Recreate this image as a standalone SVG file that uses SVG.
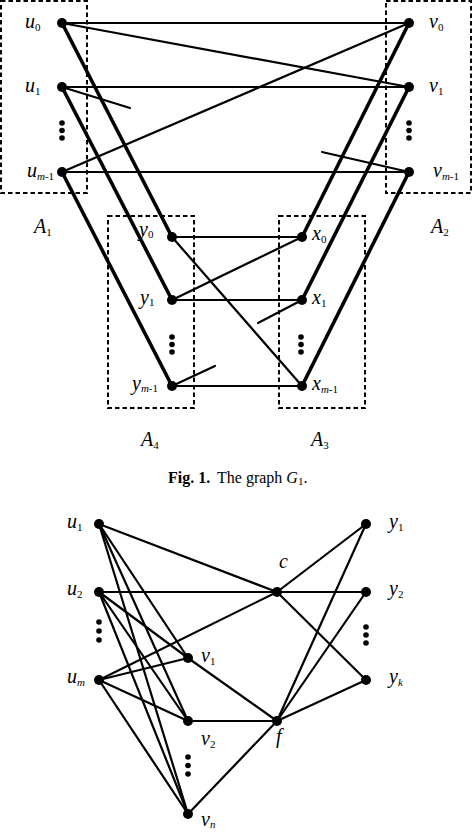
<svg xmlns="http://www.w3.org/2000/svg" width="474" height="833" viewBox="0 0 474 833">
<style>
.thin{stroke:#000;stroke-width:2.2;fill:none;stroke-linecap:round}
.thick{stroke:#000;stroke-width:3.6;fill:none;stroke-linecap:round}
.box{stroke:#000;stroke-width:2;fill:none;stroke-dasharray:4.5 3}
.nd{fill:#000}
.lb{font-family:"Liberation Serif",serif;font-style:italic;font-size:20px;fill:#000}
.sb{font-size:11px;font-style:normal}
.si{font-size:11px;font-style:italic}
.cap{font-family:"Liberation Serif",serif;font-size:16px;fill:#000}
</style>
<rect width="474" height="833" fill="#fff"/>
<g id="boxes">
<rect id="A1box" class="box" x="1" y="1" width="86" height="192"/>
<rect id="A2box" class="box" x="386" y="1" width="85" height="192"/>
<rect id="A4box" class="box" x="108" y="216" width="86" height="192"/>
<rect id="A3box" class="box" x="279" y="216" width="86" height="192"/>
</g>
<g id="connectors">
<line class="thin" x1="62" y1="23" x2="409" y2="23"/>
<line class="thin" x1="62" y1="23" x2="409" y2="87"/>
<line class="thin" x1="62" y1="87" x2="409" y2="87"/>
<line class="thin" x1="62" y1="87" x2="130" y2="108"/>
<line class="thin" x1="62" y1="172" x2="409" y2="23"/>
<line class="thin" x1="62" y1="172" x2="409" y2="172"/>
<line class="thin" x1="409" y1="172" x2="322" y2="152"/>
<line class="thin" x1="172" y1="237" x2="302" y2="237"/>
<line class="thin" x1="172" y1="300" x2="302" y2="237"/>
<line class="thin" x1="172" y1="237" x2="302" y2="386"/>
<line class="thin" x1="172" y1="300" x2="302" y2="300"/>
<line class="thin" x1="302" y1="300" x2="258" y2="323"/>
<line class="thin" x1="172" y1="386" x2="215" y2="366"/>
<line class="thin" x1="172" y1="386" x2="302" y2="386"/>
<line class="thick" x1="62" y1="23" x2="172" y2="237"/>
<line class="thick" x1="62" y1="87" x2="172" y2="300"/>
<line class="thick" x1="62" y1="172" x2="172" y2="386"/>
<line class="thick" x1="409" y1="23" x2="302" y2="237"/>
<line class="thick" x1="409" y1="87" x2="302" y2="300"/>
<line class="thick" x1="409" y1="172" x2="302" y2="386"/>
<line class="thin" x1="99" y1="524" x2="277" y2="592"/>
<line class="thin" x1="99" y1="592" x2="277" y2="592"/>
<line class="thin" x1="99" y1="680" x2="277" y2="592"/>
<line class="thin" x1="277" y1="592" x2="366" y2="524"/>
<line class="thin" x1="277" y1="592" x2="366" y2="592"/>
<line class="thin" x1="277" y1="592" x2="366" y2="680"/>
<line class="thin" x1="99" y1="524" x2="188" y2="658"/>
<line class="thin" x1="99" y1="524" x2="188" y2="721"/>
<line class="thin" x1="99" y1="524" x2="188" y2="814"/>
<line class="thin" x1="99" y1="592" x2="188" y2="658"/>
<line class="thin" x1="99" y1="592" x2="188" y2="721"/>
<line class="thin" x1="99" y1="592" x2="188" y2="814"/>
<line class="thin" x1="99" y1="680" x2="188" y2="658"/>
<line class="thin" x1="99" y1="680" x2="188" y2="721"/>
<line class="thin" x1="99" y1="680" x2="188" y2="814"/>
<line class="thin" x1="188" y1="658" x2="277" y2="721"/>
<line class="thin" x1="188" y1="721" x2="277" y2="721"/>
<line class="thin" x1="188" y1="814" x2="277" y2="721"/>
<line class="thin" x1="277" y1="721" x2="366" y2="524"/>
<line class="thin" x1="277" y1="721" x2="366" y2="592"/>
<line class="thin" x1="277" y1="721" x2="366" y2="680"/>
</g>
<g id="u0"><circle class="nd" cx="62" cy="23" r="5"/><text class="lb" x="25" y="28">u<tspan class="sb" dy="3">0</tspan></text></g>
<g id="u1"><circle class="nd" cx="62" cy="87" r="5"/><text class="lb" x="25" y="92">u<tspan class="sb" dy="3">1</tspan></text></g>
<g id="um-1"><circle class="nd" cx="62" cy="172" r="5"/><text class="lb" x="27" y="177">u<tspan class="si" dy="3">m</tspan><tspan class="sb">-1</tspan></text></g>
<g id="udots"><circle class="nd" cx="62" cy="123" r="2.8"/><circle class="nd" cx="62" cy="130.5" r="2.8"/><circle class="nd" cx="62" cy="138" r="2.8"/></g>
<g id="v0"><circle class="nd" cx="409" cy="23" r="5"/><text class="lb" x="429" y="28">v<tspan class="sb" dy="3">0</tspan></text></g>
<g id="v1"><circle class="nd" cx="409" cy="87" r="5"/><text class="lb" x="429" y="92">v<tspan class="sb" dy="3">1</tspan></text></g>
<g id="vm-1"><circle class="nd" cx="409" cy="172" r="5"/><text class="lb" x="433" y="177">v<tspan class="si" dy="3">m</tspan><tspan class="sb">-1</tspan></text></g>
<g id="vdots"><circle class="nd" cx="409" cy="123" r="2.8"/><circle class="nd" cx="409" cy="130.5" r="2.8"/><circle class="nd" cx="409" cy="138" r="2.8"/></g>
<g id="A1"><text class="lb" x="34" y="233">A<tspan class="sb" dy="3">1</tspan></text></g>
<g id="A2"><text class="lb" x="431" y="233">A<tspan class="sb" dy="3">2</tspan></text></g>
<g id="y0"><circle class="nd" cx="172" cy="237" r="5"/><text class="lb" x="139" y="236">y<tspan class="sb" dy="2">0</tspan></text></g>
<g id="y1"><circle class="nd" cx="172" cy="300" r="5"/><text class="lb" x="140" y="304">y<tspan class="sb" dy="2">1</tspan></text></g>
<g id="ym-1"><circle class="nd" cx="172" cy="386" r="5"/><text class="lb" x="132" y="390">y<tspan class="si" dy="2">m</tspan><tspan class="sb">-1</tspan></text></g>
<g id="ydots"><circle class="nd" cx="172" cy="337" r="2.8"/><circle class="nd" cx="172" cy="344.5" r="2.8"/><circle class="nd" cx="172" cy="352" r="2.8"/></g>
<g id="x0"><circle class="nd" cx="302" cy="237" r="5"/><text class="lb" x="312" y="240">x<tspan class="sb" dy="3">0</tspan></text></g>
<g id="x1"><circle class="nd" cx="302" cy="300" r="5"/><text class="lb" x="312" y="304">x<tspan class="sb" dy="3">1</tspan></text></g>
<g id="xm-1"><circle class="nd" cx="302" cy="386" r="5"/><text class="lb" x="312" y="390">x<tspan class="si" dy="3">m</tspan><tspan class="sb">-1</tspan></text></g>
<g id="xdots"><circle class="nd" cx="301" cy="337" r="2.8"/><circle class="nd" cx="301" cy="344.5" r="2.8"/><circle class="nd" cx="301" cy="352" r="2.8"/></g>
<g id="A4"><text class="lb" x="141" y="446">A<tspan class="sb" dy="3">4</tspan></text></g>
<g id="A3"><text class="lb" x="311" y="446">A<tspan class="sb" dy="3">3</tspan></text></g>
<g id="caption"><text class="cap" x="168" y="483"><tspan font-weight="bold">Fig. 1.</tspan></text><text class="cap" x="217" y="483">The graph <tspan font-style="italic">G</tspan><tspan font-size="11" dy="2">1</tspan><tspan dy="-2">.</tspan></text></g>
<g id="bu1"><circle class="nd" cx="99" cy="524" r="5"/><text class="lb" x="67" y="528">u<tspan class="sb" dy="3">1</tspan></text></g>
<g id="bu2"><circle class="nd" cx="99" cy="592" r="5"/><text class="lb" x="67" y="595">u<tspan class="sb" dy="3">2</tspan></text></g>
<g id="bum"><circle class="nd" cx="99" cy="680" r="5"/><text class="lb" x="67" y="683">u<tspan class="si" dy="3">m</tspan></text></g>
<g id="budots"><circle class="nd" cx="99" cy="622" r="2.8"/><circle class="nd" cx="99" cy="631" r="2.8"/><circle class="nd" cx="99" cy="640" r="2.8"/></g>
<g id="c"><circle class="nd" cx="277" cy="592" r="5"/><text class="lb" x="279" y="568">c</text></g>
<g id="bv1"><circle class="nd" cx="188" cy="658" r="5"/><text class="lb" x="201" y="662">v<tspan class="sb" dy="3">1</tspan></text></g>
<g id="bv2"><circle class="nd" cx="188" cy="721" r="5"/><text class="lb" x="201" y="745">v<tspan class="sb" dy="3">2</tspan></text></g>
<g id="bvn"><circle class="nd" cx="188" cy="814" r="5"/><text class="lb" x="201" y="826">v<tspan class="si" dy="2">n</tspan></text></g>
<g id="bvdots"><circle class="nd" cx="188" cy="757" r="2.8"/><circle class="nd" cx="188" cy="765.5" r="2.8"/><circle class="nd" cx="188" cy="774" r="2.8"/></g>
<g id="f"><circle class="nd" cx="277" cy="721" r="5"/><text class="lb" x="276" y="743">f</text></g>
<g id="by1"><circle class="nd" cx="366" cy="524" r="5"/><text class="lb" x="389" y="528">y<tspan class="sb" dy="3">1</tspan></text></g>
<g id="by2"><circle class="nd" cx="366" cy="592" r="5"/><text class="lb" x="389" y="595">y<tspan class="sb" dy="3">2</tspan></text></g>
<g id="byk"><circle class="nd" cx="366" cy="680" r="5"/><text class="lb" x="389" y="683">y<tspan class="si" dy="3">k</tspan></text></g>
<g id="bydots"><circle class="nd" cx="366" cy="627" r="2.8"/><circle class="nd" cx="366" cy="635" r="2.8"/><circle class="nd" cx="366" cy="643" r="2.8"/></g>
</svg>
